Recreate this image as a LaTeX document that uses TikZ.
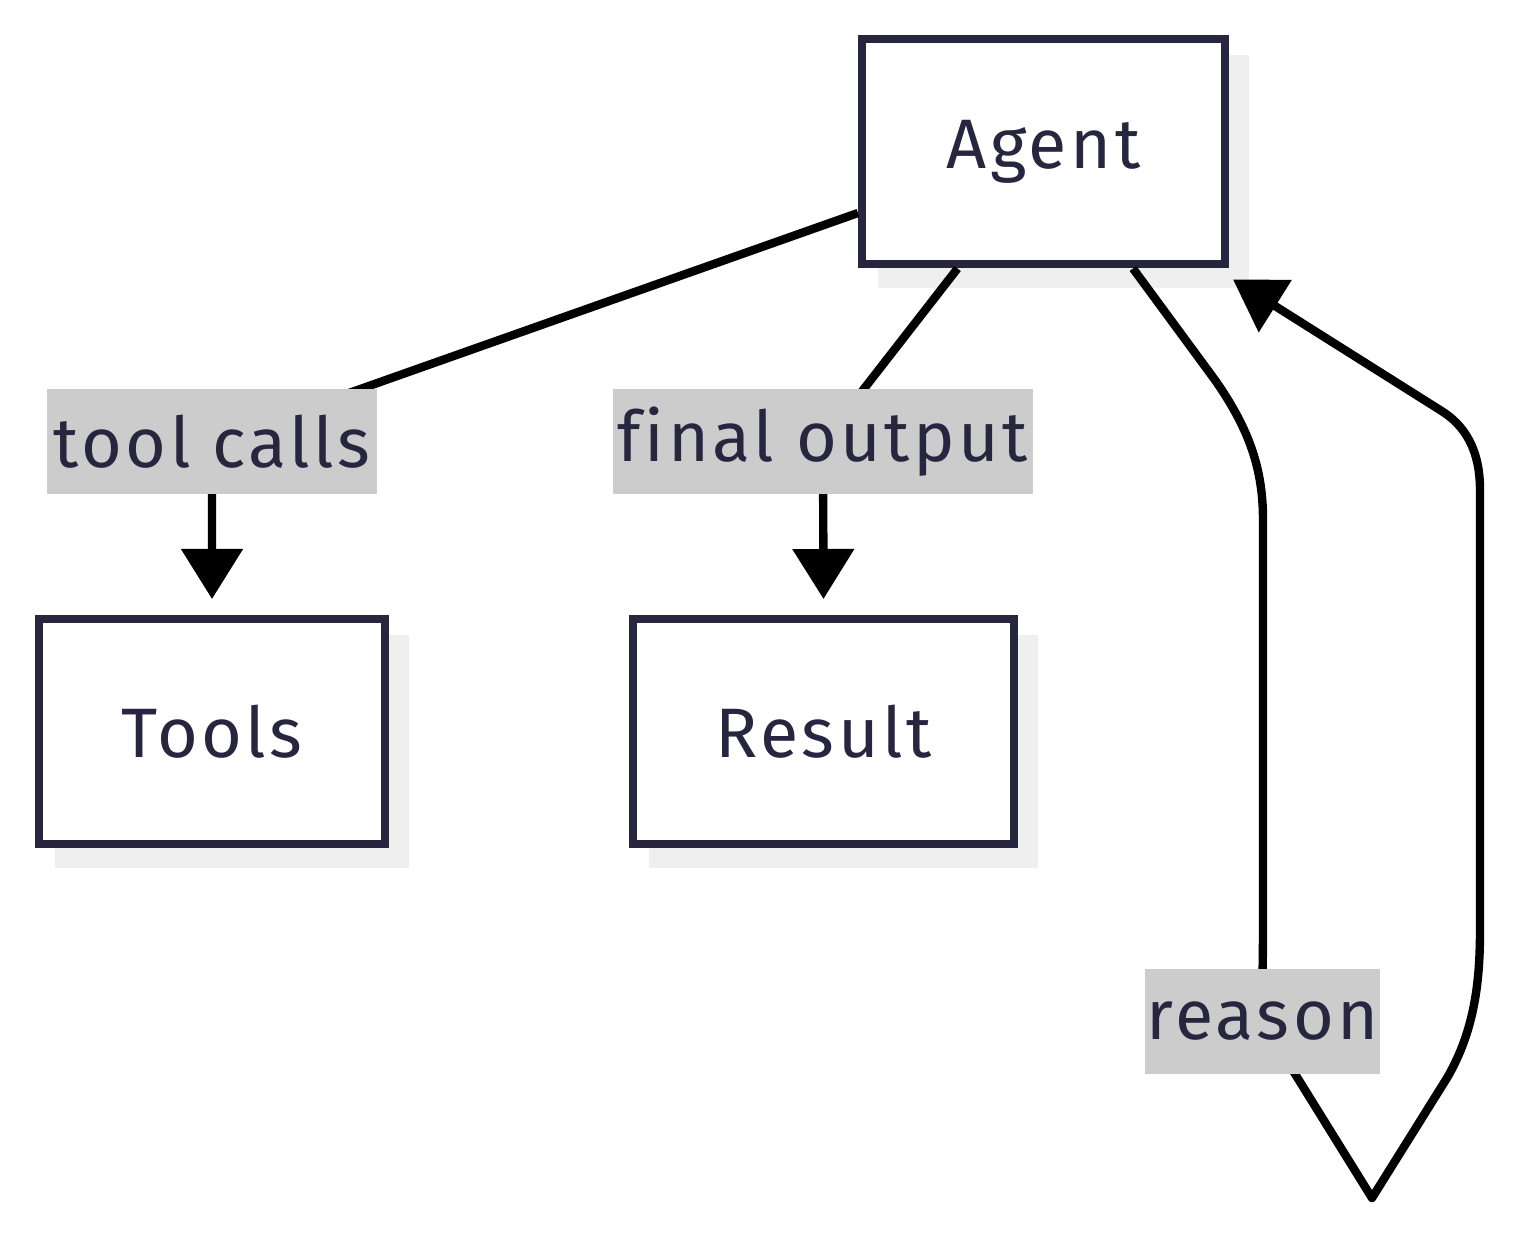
\documentclass[tikz,border=0pt]{standalone}
\usepackage{fontspec}
\setmainfont{Fira Sans}[LetterSpace=5,Ligatures={NoCommon}]
\usetikzlibrary{arrows.meta,shadows}
\definecolor{ink}{HTML}{28263F}
\definecolor{shadowgray}{HTML}{EFEFEF}
\definecolor{lblgray}{HTML}{CCCCCC}
\begin{document}
\begin{tikzpicture}[x=0.5pt,y=-0.5pt,
  box/.style={draw=ink, line width=4pt, fill=white, text=ink,
    minimum height=112.5pt, inner sep=0pt,
    font=\fontsize{35}{42}\selectfont,
    general shadow={fill=shadowgray, draw=shadowgray, line width=4pt, shadow xshift=10pt, shadow yshift=-10pt}},
  lbl/.style={fill=lblgray, text=ink, inner sep=0pt, minimum height=52.5pt,
    font=\fontsize{35}{42}\selectfont},
  edge/.style={draw=black, line width=4.2pt, line join=round},
  tip/.style={-{Triangle[length=25pt,width=30pt]}}
]
\useasboundingbox (0,0) rectangle (1522,1240);
% nodes
\node[box, minimum width=181.5pt] (agent) at (1043.5,152) {Agent};
\node[box, minimum width=173pt] (tools) at (212,731.5) {Tools};
\node[box, minimum width=190.5pt] (result) at (823.5,731.5) {Result};
% label positions
\coordinate (tcpos) at (212,441.5);
\coordinate (fopos) at (823,441.5);
\coordinate (rspos) at (1262.5,1021.5);
% edges
\draw[edge,tip] ([yshift=-30.5pt]agent.west) -- (tcpos) -- ([yshift=8pt]tools.north);
\draw[edge,tip] ([xshift=-43pt]agent.south) -- (fopos) -- ([yshift=8pt]result.north);
\draw[edge,tip] ([xshift=-48pt]agent.south east) -- (1215,380)
  .. controls (1250,430) and (1263,470) .. (1263,520) -- (1263,930)
  .. controls (1263,960) and (1262,990) .. (rspos) -- (1372,1198) -- (1447,1078)
  .. controls (1475,1030) and (1480,980) .. (1480,930) -- (1480,490)
  .. controls (1480,450) and (1465,425) .. (1440,410)
  -- ([xshift=2pt,yshift=-5.5pt]agent.south east);
% labels
\node[lbl, minimum width=165pt] (tc) at (tcpos) {tool calls};
\node[lbl, minimum width=210pt] (fo) at (fopos) {final output};
\node[lbl, minimum width=117.5pt] (rs) at (rspos) {reason};
\end{tikzpicture}
\end{document}
